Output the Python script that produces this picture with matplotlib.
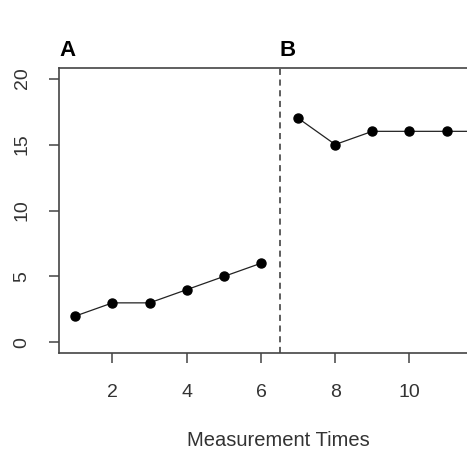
import matplotlib
matplotlib.use("Agg")
import matplotlib.pyplot as plt

plt.rcParams['font.family'] = ['Liberation Sans', 'DejaVu Sans']

times_a = [1, 2, 3, 4, 5, 6]
values_a = [2, 3, 3, 4, 5, 6]
times_b = [7, 8, 9, 10, 11, 12]
values_b = [17, 15, 16, 16, 16, 16]
phase_change = 6.5
x_ticks = [2, 4, 6, 8, 10]
y_ticks = [0, 5, 10, 15, 20]

W = H = 467
fig = plt.figure(figsize=(4.67, 4.67), dpi=100)
left, right, top, bottom = 59, 500, 68, 353
ax = fig.add_axes([left / W, (H - bottom) / H, (right - left) / W, (bottom - top) / H])

col = '#222222'
ax.plot(times_a, values_a, '-', color=col, lw=0.9, marker='o', ms=6.5, mfc='black', mec='black')
ax.plot(times_b, values_b, '-', color=col, lw=0.9, marker='o', ms=6.5, mfc='black', mec='black')
ax.axvline(phase_change, color='#333333', lw=1.1, ls=(0, (4, 3)))

ax.set_xlim(0.56, 12.44)
ax.set_ylim(-0.8, 20.8)
ax.set_xticks(x_ticks)
ax.set_yticks(y_ticks)
ax.set_yticklabels([str(v) for v in y_ticks], rotation=90, va='center')

for s in ax.spines.values():
    s.set_color('#444444')
    s.set_linewidth(1.2)
ax.tick_params(axis='both', colors='#444444', length=7.5, width=1.1,
               labelsize=14, labelcolor='#333333')
ax.tick_params(axis='x', pad=15)
ax.tick_params(axis='y', pad=13)

fig.text(278 / W, 1 - 441 / H, 'Measurement Times', ha='center', va='center',
         fontsize=14.5, color='#333333')
ax.text(0.56, 21.3, 'A', fontsize=16, fontweight='bold', ha='left', va='bottom',
        color='black', clip_on=False)
ax.text(phase_change, 21.3, 'B', fontsize=16, fontweight='bold', ha='left', va='bottom',
        color='black', clip_on=False)

fig.savefig('out.png', dpi=100)
